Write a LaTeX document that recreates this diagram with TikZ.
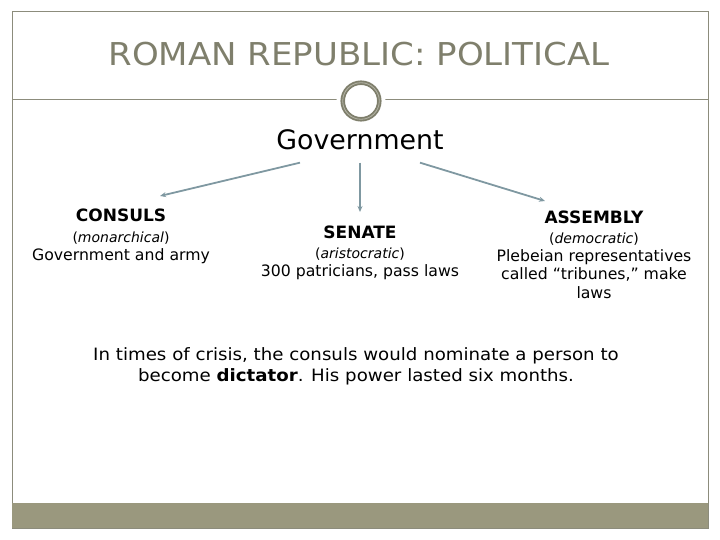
\documentclass[tikz,border=0pt]{standalone}
\usepackage{fontspec}
\setmainfont{DejaVu Sans}
\usepackage{graphicx}
\usepackage{tikz}
\usetikzlibrary{arrows.meta}
\definecolor{framegray}{HTML}{8C8C7C}
\definecolor{titlegray}{HTML}{7F7F6C}
\definecolor{ringlight}{HTML}{B4B4A6}
\definecolor{bandgray}{HTML}{9A987E}
\definecolor{linkblue}{HTML}{7F98A1}
\newcommand{\HD}[1]{{\fontsize{17}{18}\selectfont\bfseries #1}}
\newcommand{\KD}[1]{{\fontsize{14}{18}\selectfont (\textit{#1})}}

\begin{document}
\begin{tikzpicture}[x=1pt, y=-1pt,
  branch/.style={align=center, inner sep=0pt, anchor=north, font=\fontsize{15.7}{18}\selectfont},
  link/.style={draw=linkblue, line width=1.8pt, -{Stealth[length=6pt,width=5pt]}}]

  \useasboundingbox (0,0) rectangle (720,540);

  %% frame and bottom band
  \draw[framegray, line width=1pt] (12,12) rectangle (708,528);
  \fill[bandgray] (12,503) rectangle (708,528);

  %% title and rule
  \node[titlegray, font=\fontsize{31.5}{34}\selectfont] (title) at (359,54.5) {\scalebox{1.08}[1]{ROMAN REPUBLIC: POLITICAL}};
  \draw[framegray, line width=1pt] (12,100) -- (708,100);
  \fill[white] (361,101) circle (24.5);
  \draw[titlegray, line width=4.5pt] (361,101) circle (18.3);
  \draw[ringlight, line width=0.8pt] (361,101) circle (18.3);

  \node[font=\fontsize{26.8}{30}\selectfont] (gov) at (360,140) {Government};

  %% the three branches
  \node[branch] (consuls) at (121,209) {\HD{CONSULS}\\[3pt] \KD{monarchical}\\ Government and army};
  \node[branch] (senate) at (360,226) {\HD{SENATE}\\[2pt] \KD{aristocratic}\\ 300 patricians, pass laws};
  \node[branch] (assembly) at (594,211) {\HD{ASSEMBLY}\\[2pt] \KD{democratic}\\ Plebeian representatives\\ called ``tribunes,'' make\\[1pt] laws};

  \draw[link] ([xshift=-60pt, yshift=-9pt]gov.south) -- ([xshift=39pt, yshift=13pt]consuls.north); %% gov->consuls
  \draw[link] ([yshift=-9pt]gov.south) -- ([yshift=14pt]senate.north); %% gov->senate
  \draw[link] ([xshift=60pt, yshift=-9pt]gov.south) -- ([xshift=-49pt, yshift=10pt]assembly.north); %% gov->assembly

  %% note
  \node[align=center, font=\fontsize{17}{21}\selectfont] (note) at (356,366.5) {\scalebox{1.07}[1]{In times of crisis, the consuls would nominate a person to}\\ \scalebox{1.07}[1]{become \textbf{dictator}. His power lasted six months.}};
\end{tikzpicture}
\end{document}
